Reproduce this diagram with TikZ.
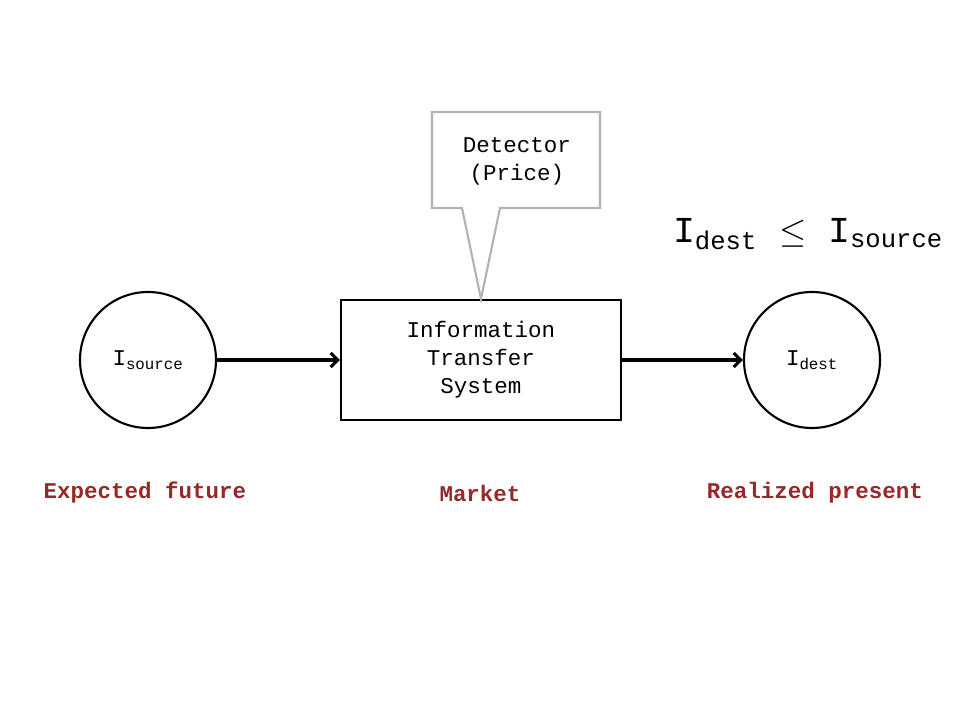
\documentclass[tikz,border=0pt]{standalone}
\usepackage{fontspec}
\setmainfont{Liberation Mono}
\usetikzlibrary{arrows.meta,positioning}
\definecolor{labelred}{RGB}{150,40,40}
\begin{document}
\begin{tikzpicture}[x=0.025cm, y=-0.025cm, font=\fontsize{16}{20}\selectfont,
    endpoint/.style={draw, line width=1.5pt, circle, minimum size=136*0.025cm, inner sep=0pt},
    system/.style={draw, line width=1.5pt, minimum width=280*0.025cm, minimum height=120*0.025cm, align=center},
    flow/.style={line width=2.2pt, -{Straight Barb[length=5pt, width=10pt]}},
    caption/.style={text=labelred, font=\fontsize{16}{20}\selectfont\bfseries}]
  \useasboundingbox (0,0) rectangle (960,720);
  % circles and box
  \node[endpoint] (source) at (148,360) {I\textsubscript{source}};
  \node[system] (its) at (481,360) {Information\\Transfer\\System};
  \node[endpoint] (dest) at (812,360) {I\textsubscript{dest}};
  \draw[flow] (source) -- (its);
  \draw[flow] (its) -- (dest);
  % callout
  \draw[gray!60, line width=1.5pt] (432,112) -- (600,112) -- (600,208) -- (500,208)
      -- (its.north) -- (462,208) -- (432,208) -- cycle;
  \node[align=center] (detector) at (517,161) {Detector\\(Price)};
  \node[font=\fontsize{26}{30}\selectfont] (ineq) at (808,234)
      {I\textsubscript{dest} $\leq$ I\textsubscript{source}};
  % captions
  \node[caption] (future) at (145,493) {Expected future};
  \node[caption] (market) at (480,493) {Market};
  \node[caption] (present) at (815,493) {Realized present};
\end{tikzpicture}
\end{document}
